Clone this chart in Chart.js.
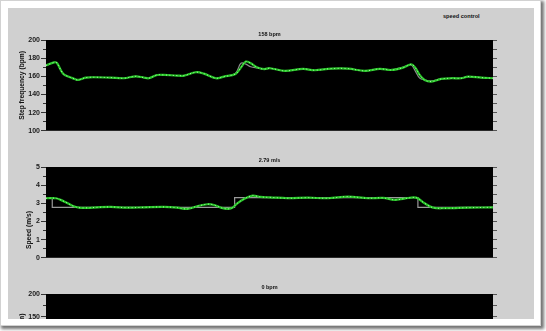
<!DOCTYPE html>
<html><head><meta charset="utf-8">
<script src="https://cdn.jsdelivr.net/npm/chart.js@4.4.1/dist/chart.umd.min.js"></script>
<style>
html,body{margin:0;padding:0;background:#fff;width:546px;height:331px;overflow:hidden;position:relative;}
#frame{position:absolute;left:0;top:0;width:539px;height:324px;background:#fff;border:1px solid #d2d2d2;box-shadow:2px 2px 3px 1px rgba(0,0,0,0.55);}
#panel{position:absolute;left:8px;top:8px;width:526px;height:311px;background:#d0d0d0;overflow:hidden;}
.cw{position:absolute;left:0;width:523px;height:112px;}
#hdr{position:absolute;left:443px;top:13px;line-height:8px;font:bold 5.6px "Liberation Sans",Arial,sans-serif;color:#111;white-space:nowrap;}
</style></head>
<body>
<div id="frame"></div>
<div id="panel">
  <div class="cw" style="top:16px"><canvas id="c1" width="523" height="112"></canvas></div>
  <div class="cw" style="top:143px"><canvas id="c2" width="523" height="112"></canvas></div>
  <div class="cw" style="top:270px"><canvas id="c3" width="523" height="112"></canvas></div>
</div>
<div id="hdr">speed control</div>
<script>
// ---- data (time in % of run) ----
const freqTime     = [0, 1.8, 2.4, 3.3, 3.9, 4.8, 5.9, 7.0, 7.8, 8.9, 10.7, 14.5, 17.4, 20.1, 21.9, 23.0, 24.9, 26.4, 29.4, 30.9, 33.5, 35.3, 38.0, 39.8, 42.4, 43.6, 44.7, 45.8, 47.3, 48.8, 50.1, 53.4, 57.5, 60.1, 63.8, 67.6, 71.3, 74.7, 77.3, 79.9, 81.7, 82.6, 83.6, 84.7, 86.2, 88.4, 90.7, 92.9, 94.4, 97.4, 100];
const freqMeasured = [172, 175.3, 175, 167, 162.6, 160, 158, 156, 156.8, 158.6, 159, 158.6, 157.9, 160, 158.6, 157.9, 161.5, 161.5, 160.8, 160.8, 164.5, 163, 157.9, 159.7, 162.6, 169.6, 176.2, 174.4, 169.6, 168, 168.9, 166, 168.2, 166.7, 168.5, 168.5, 166, 168.2, 167, 169.6, 173.3, 169.6, 161.5, 156, 154.2, 157.1, 157.9, 157.9, 159.7, 158.6, 157.9];
const freqTarget   = [172, 175.3, 175, 167, 162.6, 160, 158, 156, 156.8, 158.6, 159, 158.6, 157.9, 160, 158.6, 157.9, 161.5, 161.5, 160.8, 160.8, 164.5, 163, 157.9, 159.7, 163.5, 174.4, 173.5, 170.5, 169.2, 168, 168.9, 166, 168.2, 166.7, 168.5, 168.5, 166, 168.2, 167, 170.3, 172.5, 166, 158, 156, 155, 157.1, 157.9, 157.9, 159.7, 158.6, 157.9];

const speedTime     = [0, 2.2, 3.3, 4.4, 5.9, 7.4, 9.2, 11.5, 14.5, 18.2, 21.9, 26.4, 29.4, 31.6, 33.8, 36.1, 37.6, 39.1, 40.6, 41.7, 42.8, 44.3, 46.2, 48.0, 50.1, 54.1, 58.6, 63.1, 67.6, 72.0, 75.4, 78.0, 80.2, 82.8, 84.7, 86.6, 89.2, 94.4, 100];
const speedMeasured = [3.28, 3.28, 3.19, 3.06, 2.87, 2.76, 2.75, 2.78, 2.80, 2.76, 2.78, 2.80, 2.76, 2.69, 2.84, 2.95, 2.91, 2.76, 2.69, 2.76, 3.00, 3.24, 3.42, 3.35, 3.33, 3.28, 3.31, 3.28, 3.37, 3.28, 3.30, 3.19, 3.26, 3.31, 3.00, 2.76, 2.73, 2.76, 2.78];
const speedTargetTime  = [0, 1.4, 1.4, 42.2, 42.2, 83.2, 83.2, 100];
const speedTargetValue = [3.28, 3.28, 2.78, 2.78, 3.31, 3.31, 2.78, 2.78];

const heartTime = [];
const heartRate = [];

const titles     = ['158 bpm', '2.79 m/s', '0 bpm'];
const axisLabels = ['Step frequency (bpm)', 'Speed (m/s)', 'Heart rate (bpm)'];
const freqRange  = [100, 200, 20, 10];
const speedRange = [0, 5, 1, 0.5];
const heartRange = [0, 200, 50, 25];

// ---- helpers ----
const FAM = '"Liberation Sans", Arial, sans-serif';
const pts = (xs, ys) => xs.map((x, i) => ({x: x, y: ys[i]}));

const plotBg = {
  id: 'plotBg',
  beforeDraw(c) {
    const a = c.chartArea, ctx = c.ctx;
    ctx.save();
    ctx.fillStyle = '#000';
    ctx.fillRect(a.left, a.top, a.right - a.left, a.bottom - a.top);
    ctx.restore();
  }
};

function greenSets(data) {
  return [
    {data: data, borderColor: 'rgba(175,255,175,0.95)', borderWidth: 1, borderDash: [1, 2.5], pointRadius: 0, tension: 0.35, order: 0},
    {data: data, borderColor: '#27c427', borderWidth: 2.2, pointRadius: 0, tension: 0.35, order: 1}
  ];
}

function makeChart(id, title, titlePad, label, labelPad, range, datasets) {
  const [mn, mx, major, minor] = range;
  datasets.forEach(d => { d.xAxisID = 'x'; d.yAxisID = 'y'; });
  return new Chart(document.getElementById(id), {
    type: 'line',
    data: {datasets: datasets},
    plugins: [plotBg],
    options: {
      responsive: false,
      animation: false,
      events: [],
      layout: {padding: {left: 0, right: 0, top: 0, bottom: 5}},
      plugins: {
        legend: {display: false},
        tooltip: {enabled: false},
        title: {display: true, text: title, color: '#111',
                font: {family: FAM, size: 5.5, weight: 'bold'},
                padding: {top: titlePad, bottom: 16 - titlePad - 6.6}}
      },
      scales: {
        x: {type: 'linear', min: 0, max: 100, display: false},
        y: {
          position: 'left', weight: 1, min: mn, max: mx,
          afterFit(s) { s.width = 38; },
          ticks: {stepSize: major, color: '#1a1a1a', padding: 1,
                  font: {family: FAM, size: 7, weight: 'bold'}},
          grid: {drawOnChartArea: false, tickLength: 5, color: '#333'},
          border: {display: false},
          title: {display: true, text: label, color: '#111',
                  font: {family: FAM, size: 6.7, weight: 'bold'},
                  padding: {top: labelPad, bottom: 0}}
        },
        yMinor: {
          position: 'left', weight: 0, min: mn, max: mx,
          afterFit(s) { s.width = 0; },
          ticks: {display: false, stepSize: minor},
          grid: {drawOnChartArea: false, tickLength: 3, color: '#333'},
          border: {display: false}
        },
        yRight: {
          position: 'right', weight: 0, min: mn, max: mx,
          afterFit(s) { s.width = 38; },
          ticks: {display: false, stepSize: minor},
          grid: {drawOnChartArea: false, tickLength: 4, color: '#555'},
          border: {display: false}
        }
      }
    }
  });
}

makeChart('c1', titles[0], 6.7, axisLabels[0], 9.7, freqRange, [
  ...greenSets(pts(freqTime, freqMeasured)),
  {data: pts(freqTime, freqTarget), borderColor: '#8c8c8c', borderWidth: 1.2, pointRadius: 0, tension: 0.35, order: 2}
]);

makeChart('c2', titles[1], 6.0, axisLabels[1] + '                   ', 17, speedRange, [
  ...greenSets(pts(speedTime, speedMeasured)),
  {data: pts(speedTargetTime, speedTargetValue), borderColor: '#9a9a9a', borderWidth: 1.2, pointRadius: 0, tension: 0, order: 2}
]);

makeChart('c3', titles[2], 5.7, axisLabels[2], 10, heartRange, [
  {data: pts(heartTime, heartRate), borderColor: '#27c427', borderWidth: 2, pointRadius: 0}
]);
</script>
</body></html>
